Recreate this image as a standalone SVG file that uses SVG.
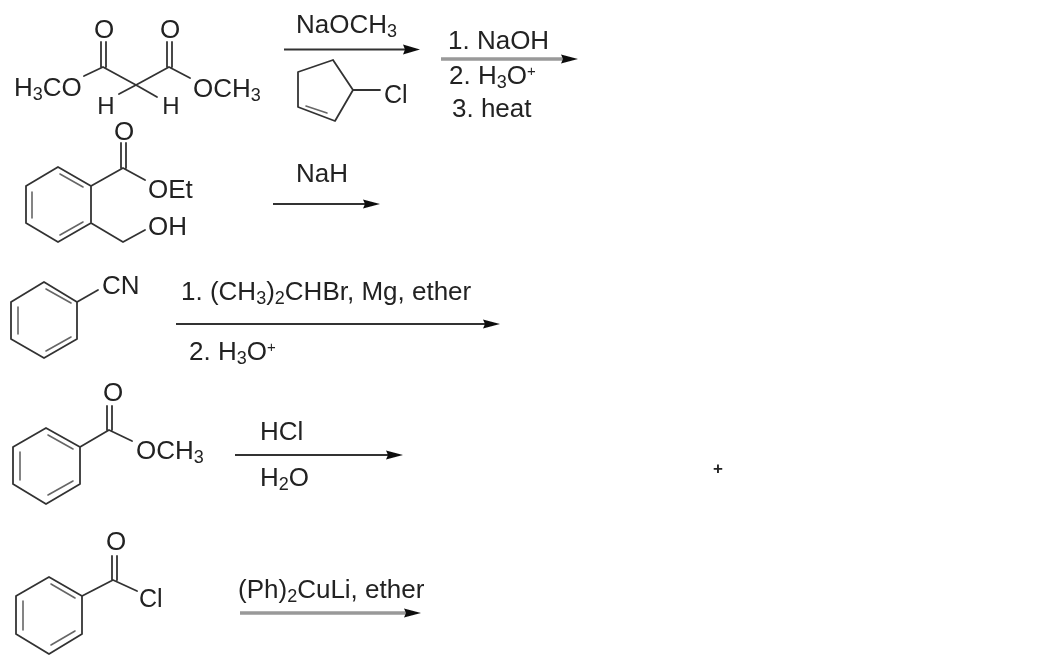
<svg xmlns="http://www.w3.org/2000/svg" width="1060" height="666" viewBox="0 0 1060 666">
<style>
text{font-family:"Liberation Sans",Arial,sans-serif;font-size:26px;fill:#222}
tspan.s{font-size:18px}
tspan.p{font-size:15px}
.m{text-anchor:middle}
.b{fill:none;stroke:#333;stroke-width:1.8;stroke-linecap:round;stroke-linejoin:round}
.i{fill:none;stroke:#666;stroke-width:1.6;stroke-linecap:round}
.a{stroke:#333;stroke-width:2}
.g{stroke:#999;stroke-width:3.4}
.h{fill:#111}
.l{font-size:24px}
.c{font-size:25px}
.plus{font-size:17px;font-weight:bold}
</style>
<defs>
<filter id="s" x="-5%" y="-5%" width="110%" height="110%"><feGaussianBlur stdDeviation="0.75"/></filter>
</defs>
<rect width="1060" height="666" fill="#fff"/>
<g filter="url(#s)">
<g id="malonate">
<path class="b" d="M84 76L103 67L136 85L169 67L190 78M136 85L119 94M136 85L157 97M101 67V42M106 67V42M167 67V42M172 67V42"/>
<text x="14" y="96">H<tspan class="s" dy="4">3</tspan><tspan dy="-4">CO</tspan></text>
<text x="193" y="97">OCH<tspan class="s" dy="4">3</tspan></text>
<text class="m" x="104" y="38">O</text><text class="m" x="170" y="38">O</text>
<text class="m l" x="106" y="114">H</text><text class="m l" x="171" y="114">H</text>
</g>
<g id="cyclopentenyl-chloride">
<path class="b" d="M333 60L298 72V107L335 121L353 90L333 60M353 90H380"/>
<path class="i" d="M306 106L327 113"/>
<text class="c" x="384" y="103">Cl</text>
</g>
<g id="hydroxymethyl-benzoate">
<path class="b" d="M58 167L91 186V223L58 242L26 223V186ZM91 186L123 168L145 180M91 223L123 242L145 230M121 168V143M126 168V143"/>
<path class="i" d="M60 174L83 187M83 222L60 235M32 192V218"/>
<text class="m" x="124" y="140">O</text>
<text x="148" y="198">OEt</text>
<text x="148" y="235">OH</text>
</g>
<g id="benzonitrile">
<path class="b" d="M44 282L77 302V339L44 358L11 339V302ZM77 302L98 290"/>
<path class="i" d="M46 289L71 303M71 337L46 351M18 307V334"/>
<text x="102" y="294">CN</text>
</g>
<g id="methyl-benzoate">
<path class="b" d="M46 428L80 447V484L46 504L13 484V447ZM80 447L109 430L132 441M107 430V406M112 430V406"/>
<path class="i" d="M48 435L73 449M73 481L48 495M20 452V480"/>
<text class="m" x="113" y="401">O</text>
<text x="136" y="459">OCH<tspan class="s" dy="4">3</tspan></text>
</g>
<g id="benzoyl-chloride">
<path class="b" d="M49 577L82 596V634L49 654L16 634V596ZM82 596L113 580L137 591M112 580V556M117 580V556"/>
<path class="i" d="M51 584L75 598M75 631L51 645M23 601V630"/>
<text class="m" x="116" y="550">O</text>
<text class="c" x="139" y="607">Cl</text>
</g>
<g id="connectors">
<path class="a" d="M284 49.500H408"/><path class="h" d="M420 49.500L403 44.500L405 49.500L403 54.500Z"/>
<path class="g" d="M441 59H566"/><path class="h" d="M578 59L561 54.500L563 59L561 63.500Z"/>
<path class="a" d="M273 204H367"/><path class="h" d="M380 204L363 199.500L365 204L363 208.500Z"/>
<path class="a" d="M176 324H487"/><path class="h" d="M500 324L483 319.500L485 324L483 328.500Z"/>
<path class="a" d="M235 455H390"/><path class="h" d="M403 455L386 450.500L388 455L386 459.500Z"/>
<path class="g" d="M240 613H409"/><path class="h" d="M421 613L404 608.500L406 613L404 617.500Z"/>
</g>
<g id="labels">
<text x="296" y="33">NaOCH<tspan class="s" dy="4">3</tspan></text>
<text x="448" y="49">1. NaOH</text>
<text x="449" y="84">2. H<tspan class="s" dy="4">3</tspan><tspan dy="-4">O</tspan><tspan class="p" dy="-8">+</tspan></text>
<text x="452" y="117">3. heat</text>
<text x="296" y="182">NaH</text>
<text x="181" y="300">1. (CH<tspan class="s" dy="4">3</tspan><tspan dy="-4">)</tspan><tspan class="s" dy="4">2</tspan><tspan dy="-4">CHBr, Mg, ether</tspan></text>
<text x="189" y="360">2. H<tspan class="s" dy="4">3</tspan><tspan dy="-4">O</tspan><tspan class="p" dy="-8">+</tspan></text>
<text x="260" y="440">HCl</text>
<text x="260" y="486">H<tspan class="s" dy="4">2</tspan><tspan dy="-4">O</tspan></text>
<text x="238" y="598">(Ph)<tspan class="s" dy="4">2</tspan><tspan dy="-4">CuLi, ether</tspan></text>
<text class="m plus" x="718" y="474">+</text>
</g>
</g>
</svg>
